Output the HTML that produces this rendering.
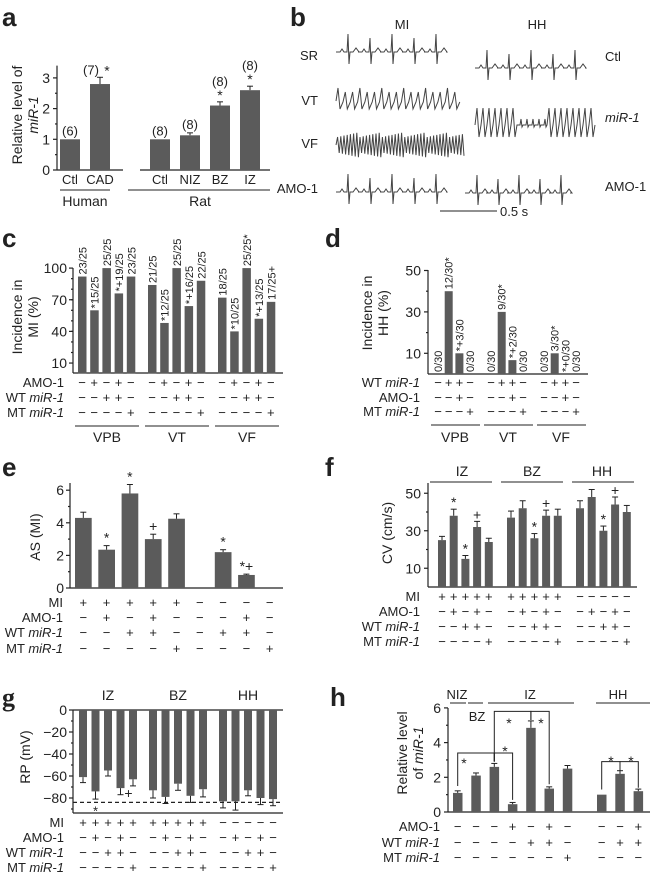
<!DOCTYPE html>
<html><head><meta charset="utf-8"><style>
body{margin:0;background:#fff;}
svg{display:block;font-family:"Liberation Sans",sans-serif;}
</style></head><body>
<svg id="fig" width="650" height="878" viewBox="0 0 650 878" xmlns="http://www.w3.org/2000/svg"></svg>
<script>
// ---------- data ----------
const aCats = ["Ctl","CAD","Ctl","NIZ","BZ","IZ"];
const aValues = [1,2.8,1,1.13,2.1,2.6];
const aErrors = [0,0.22,0,0.08,0.12,0.13];
const aN = ["(6)","(7)","(8)","(8)","(8)","(8)"];
const aStar = ["","*","","","*","*"];
const aTicks = [0,1,2,3];

const cGroups = ["VPB","VT","VF"];
const cValues = [[92,60,100,76,92],[84,48,100,64,88],[72,40,100,52,68]];
const cLabels = [["23/25","*15/25","25/25","*+19/25","23/25"],["21/25","*12/25","25/25","*+16/25","22/25"],["18/25","*10/25","25/25*","*+13/25","17/25+"]];
const cTicks = [10,40,70,100];

const dValues = [[0,40,10,0],[0,30,6.7,0],[0,10,0,0]];
const dLabels = [["0/30","12/30*","*+3/30","0/30"],["0/30","9/30*","*+2/30","0/30"],["0/30","3/30*","*+0/30","0/30"]];
const dTicks = [10,30,50];

const eValues = [4.3,2.35,5.8,3.0,4.25,0,2.2,0.8,0];
const eErrors = [0.35,0.25,0.55,0.3,0.3,0,0.15,0.05,0];
const eMarks = ["","*","*","+","","","*","*+",""];
const eTicks = [0,2,4,6];

const fGroups = ["IZ","BZ","HH"];
const fValues = [[25,38,15,32,24],[37,42,26,38,38],[42,48,30,44,40]];
const fErrors = [[2,3.5,1.8,3,2],[3.5,4,2.5,3,3.5],[4,4,2.5,4,3.5]];
const fMarks = [["","*","*","+",""],["","","*","+",""],["","","*","+",""]];
const fTicks = [10,30,50];

const gGroups = ["IZ","BZ","HH"];
const gValues = [[-61,-74,-55,-71,-63],[-73,-79,-67,-78,-72],[-83,-83,-73,-80,-81]];
const gErrors = [[5,7,5,6,6],[7,6,6,6,7],[6,8,5,6,6]];
const gTicks = [0,-20,-40,-60,-80];

const hValues = [1.1,2.1,2.6,0.45,4.85,1.35,2.5];
const hErrors = [0.12,0.15,0.2,0.1,0.4,0.1,0.18];
const hHHValues = [1.0,2.2,1.2];
const hHHErrors = [0,0.18,0.12];
const hTicks = [0,2,4,6];

// ---------- helpers ----------
const svg = document.getElementById('fig');
const NS = "http://www.w3.org/2000/svg";
const BAR = "#5b5b5b";
function mk(tag, attrs, name, parent){
  const el = document.createElementNS(NS, tag);
  for (const k in attrs) el.setAttribute(k, attrs[k]);
  
  
  (parent||svg).appendChild(el);
  return el;
}
function txt(x,y,s,name,o){
  o=o||{};
  const el = mk('text',{x:x,y:y,'font-size':o.size||12,'text-anchor':o.anchor||'start',fill:'#222','font-style':o.italic?'italic':'normal','font-weight':o.bold?'bold':'normal'},name);
  if(o.family) el.setAttribute('font-family',o.family);
  if(o.rot!==undefined) el.setAttribute('transform','rotate('+o.rot+' '+x+' '+y+')');
  el.textContent = s;
  return el;
}
function ln(x1,y1,x2,y2,name,w,dash){
  const el = mk('line',{x1:x1,y1:y1,x2:x2,y2:y2,stroke:'#222','stroke-width':w||1.2},name);
  if(dash) el.setAttribute('stroke-dasharray',dash);
  return el;
}
function bar(x,y0,y1,w,name){
  return mk('rect',{x:x,y:Math.min(y0,y1),width:w,height:Math.abs(y1-y0),fill:BAR},name);
}
function errbar(cx,yTop,yErr,name){
  ln(cx,yTop,cx,yErr,name,1);
  ln(cx-3,yErr,cx+3,yErr,name+'-cap',1);
}
function ylab(x,cy,lines,name){
  lines.forEach((l,i)=>{
    const t = txt(x+i*16,cy,'',name,{rot:-90,anchor:'middle',size:14});
    l.forEach(seg=>{const s=document.createElementNS(NS,'tspan');s.textContent=seg[0];if(seg[1])s.setAttribute('font-style','italic');t.appendChild(s);});
  });
}
function signRow(label, italicPart, yy, xs, signs, rightX, name){
  const t = txt(rightX,yy,'',name+'-label',{anchor:'end',size:13});
  const s1=document.createElementNS(NS,'tspan');s1.textContent=label;t.appendChild(s1);
  if(italicPart){const s2=document.createElementNS(NS,'tspan');s2.setAttribute('font-style','italic');s2.textContent=italicPart;t.appendChild(s2);}
  xs.forEach((x,i)=>{ if(signs[i]) txt(x,yy,signs[i]==='+'?'+':'\u2212',name+'-sign',{anchor:'middle',size:13}); });
}
function letter(x,y,s,name,serif){ txt(x,y,s,name,{bold:true,size:26,family:serif?'"Liberation Serif",serif':undefined}); }

// ---------- panel a ----------
letter(2,26,'a','panel-a-letter');
const aY = v => 170 - v*30.7;
const aX = [60,90,150,180,210,240];
ln(57,aY(3.4),57,170,'a-y-axis');
ln(57,170,123,170,'a-x-axis-human');
ln(140,170,270,170,'a-x-axis-rat');
aTicks.forEach(t=>{ln(53,aY(t),57,aY(t),'a-tick');txt(50,aY(t)+5,String(t),'a-tick-label',{anchor:'end',size:14});});
[0.5,1.5,2.5].forEach(t=>ln(55,aY(t),57,aY(t),'a-minor-tick'));
aValues.forEach((v,i)=>{
  bar(aX[i],aY(0),aY(v),20,'a-bar-'+aCats[i].toLowerCase());
  let top=aY(v+aErrors[i]);
  if(aErrors[i]>0) errbar(aX[i]+10,aY(v),top,'a-error');
  txt(aX[i]+10,184,aCats[i],'a-category-label',{anchor:'middle',size:13});
  if(i===1){ txt(aX[i]+17,top-2,'*','a-star',{anchor:'middle',size:14}); txt(aX[i]+1,top-3,aN[i],'a-n-label',{anchor:'middle',size:13}); return; }
  if(aStar[i]){ txt(aX[i]+10,top-2,'*','a-star',{anchor:'middle',size:14}); top-=12; }
  txt(aX[i]+10,top-4,aN[i],'a-n-label',{anchor:'middle',size:13});
});
ln(60,190,110,190,'a-human-line',1);ln(128,190,270,190,'a-rat-line',1);
txt(85,206,'Human','a-group-human',{anchor:'middle',size:14});
txt(200,206,'Rat','a-group-rat',{anchor:'middle',size:14});
ylab(22,115,[[['Relative level of']],[['miR-1',1]]],'a-y-axis-title');

// ---------- panel b ----------
letter(290,26,'b','panel-b-letter');
txt(402,29,'MI','b-mi-title',{anchor:'middle',size:13});
txt(537,29,'HH','b-hh-title',{anchor:'middle',size:13});
function trace(x0,x1,yc,type,name,period){
  let d='M'+x0+' '+yc; let x=x0;
  if(type==='sr'){
    let k=0;
    while(x<x1-period){
      const up = (k%2===0)?-18:-14;
      d+=' L'+(x+4)+' '+yc+' l2 -3 l2 3 l3 0 l1 '+up+' l1 '+(-up+12)+' l1 -12 l3 0 l3 -4 l3 4';
      x+=period; d+=' L'+x+' '+yc; k++;
    }
  } else if(type==='vt'){
    let k=0; while(x<x1-6){ const a=(k%3===0)?13:9; d+=' L'+(x+2)+' '+(yc-a)+' L'+(x+4)+' '+(yc+8)+' L'+(x+7)+' '+(yc+1); x+=7.3; k++; }
  } else if(type==='vf'){
    let k=0; while(x<x1-3){ const a=8+ (k%7)*0.7; d+=' L'+(x+1.6)+' '+(yc-a)+' L'+(x+3.2)+' '+(yc+a); x+=3.2; k++; }
  } else if(type==='mir'){
    let k=0; while(x<x1-6){ if(k>6&&k<12){d+=' l3 0 l1 -6 l1 8 l1 -2'; x+=6;} else {d+=' L'+(x+2)+' '+(yc-17)+' L'+(x+4)+' '+(yc+12)+' L'+(x+6)+' '+yc; x+=6;} k++; }
  }
  mk('path',{d:d,fill:'none',stroke:'#444','stroke-width':1},name);
}
txt(318,60,'SR','b-sr-label',{anchor:'end',size:13});
txt(318,105,'VT','b-vt-label',{anchor:'end',size:13});
txt(318,148,'VF','b-vf-label',{anchor:'end',size:13});
txt(318,193,'AMO-1','b-amo1-label',{anchor:'end',size:13});
trace(336,465,52,'sr','b-trace-mi-sr',22);
trace(336,463,101,'vt','b-trace-mi-vt');
trace(336,465,145,'vf','b-trace-mi-vf');
trace(336,458,192,'sr','b-trace-mi-amo1',22);
trace(475,600,68,'sr','b-trace-hh-ctl',22);
trace(475,600,125,'mir','b-trace-hh-mir1');
trace(465,588,193,'sr','b-trace-hh-amo1',21);
txt(605,61,'Ctl','b-ctl-label',{size:13});
txt(605,122,'miR-1','b-mir1-label',{size:13,italic:true});
txt(605,191,'AMO-1','b-amo1-right-label',{size:13});
ln(440,211,497,211,'b-scale-bar',1);
txt(500,216,'0.5 s','b-scale-label',{size:13});

// ---------- panel c ----------
letter(2,247,'c','panel-c-letter');
const cY = v => 373.6 - v*1.055;
ln(73,268,73,373,'c-y-axis');ln(73,373,283,373,'c-x-axis');
cTicks.forEach(t=>{ln(69,cY(t),73,cY(t),'c-tick');txt(67,cY(t)+5,String(t),'c-tick-label',{anchor:'end',size:14});});
for(let t=20;t<100;t+=10) ln(71,cY(t),73,cY(t),'c-minor-tick');
const cXs=[];
cValues.forEach((g,gi)=>g.forEach((v,i)=>{
  const x=78+gi*70+i*12.2; cXs.push(x+4);
  bar(x,cY(0),cY(v),8.5,'c-bar-'+cGroups[gi].toLowerCase()+'-'+i);
  txt(x+8.5,cY(v)-2,cLabels[gi][i],'c-count-label',{rot:-90,size:11});
}));
const cSigns=[['-','+','-','+','-'],['-','-','+','+','-'],['-','-','-','-','+']];
const rep3 = a=>a.concat(a,a);
signRow('AMO-1','',387,cXs,rep3(cSigns[0]),64,'c-row-amo1');
signRow('WT ','miR-1',402,cXs,rep3(cSigns[1]),64,'c-row-wt');
signRow('MT ','miR-1',417,cXs,rep3(cSigns[2]),64,'c-row-mt');
cGroups.forEach((g,gi)=>{ln(75+gi*70,426,139+gi*70,426,'c-group-line',1);txt(107+gi*70,442,g,'c-group-label',{anchor:'middle',size:14});});
ylab(22,317,[[['Incidence in']],[['MI (%)']]],'c-y-axis-title');

// ---------- panel d ----------
letter(325,247,'d','panel-d-letter');
const dY = v => 374 - v*2.07;
ln(428,270,428,374,'d-y-axis');ln(428,374,588,374,'d-x-axis');
dTicks.forEach(t=>{ln(424,dY(t),428,dY(t),'d-tick');txt(421,dY(t)+5,String(t),'d-tick-label',{anchor:'end',size:14});});
[20,40].forEach(t=>ln(426,dY(t),428,dY(t),'d-minor-tick'));
const dXs=[];
dValues.forEach((g,gi)=>g.forEach((v,i)=>{
  const x=434+gi*53+i*10.7; dXs.push(x+4);
  if(v>0) bar(x,dY(0),dY(v),8,'d-bar-'+cGroups[gi].toLowerCase()+'-'+i);
  txt(x+8,dY(v)-2,dLabels[gi][i],'d-count-label',{rot:-90,size:11});
}));
const dSigns=[['-','+','+','-'],['-','-','+','-'],['-','-','-','+']];
signRow('WT ','miR-1',387,dXs,rep3(dSigns[0]),420,'d-row-wt');
signRow('AMO-1','',402,dXs,rep3(dSigns[1]),420,'d-row-amo1');
signRow('MT ','miR-1',416,dXs,rep3(dSigns[2]),420,'d-row-mt');
cGroups.forEach((g,gi)=>{ln(431+gi*53,425,480+gi*53,425,'d-group-line',1);txt(455+gi*53,442,g,'d-group-label',{anchor:'middle',size:14});});
ylab(372,313,[[['Incidence in']],[['HH (%)']]],'d-y-axis-title');

// ---------- panel e ----------
letter(2,476,'e','panel-e-letter');
const eY = v => 588 - v*16.3;
ln(70,483,70,588,'e-y-axis');ln(70,588,283,588,'e-x-axis');
eTicks.forEach(t=>{ln(66,eY(t),70,eY(t),'e-tick');txt(64,eY(t)+5,String(t),'e-tick-label',{anchor:'end',size:14});});
[1,3,5].forEach(t=>ln(68,eY(t),70,eY(t),'e-minor-tick'));
const eXs=[];
eValues.forEach((v,i)=>{
  const x=75+i*23.3; eXs.push(x+8.3);
  if(v>0){ bar(x,eY(0),eY(v),16.7,'e-bar-'+i); errbar(x+8.3,eY(v),eY(v+eErrors[i]),'e-error'); }
  if(eMarks[i]) txt(x+8.3,eY(v+eErrors[i])-3,eMarks[i],'e-significance',{anchor:'middle',size:14});
});
signRow('MI','',607,eXs,['+','+','+','+','+','-','-','-','-'],63,'e-row-mi');
signRow('AMO-1','',622,eXs,['-','+','-','+','-','-','-','+','-'],63,'e-row-amo1');
signRow('WT ','miR-1',637,eXs,['-','-','+','+','-','-','+','+','-'],63,'e-row-wt');
signRow('MT ','miR-1',653,eXs,['-','-','-','-','+','-','-','-','+'],63,'e-row-mt');
ylab(40,537,[[['AS (MI)']]],'e-y-axis-title');

// ---------- panel f ----------
letter(325,476,'f','panel-f-letter');
const fY = v => 587 - v*1.875;
ln(428,483,428,587,'f-y-axis');ln(428,587,637,587,'f-x-axis');
fTicks.forEach(t=>{ln(424,fY(t),428,fY(t),'f-tick');txt(421,fY(t)+5,String(t),'f-tick-label',{anchor:'end',size:14});});
[20,40].forEach(t=>ln(426,fY(t),428,fY(t),'f-minor-tick'));
const fXs=[];
fValues.forEach((g,gi)=>g.forEach((v,i)=>{
  const x=438+gi*69+i*11.7; fXs.push(x+4);
  bar(x,fY(0),fY(v),8,'f-bar-'+fGroups[gi].toLowerCase()+'-'+i);
  errbar(x+4,fY(v),fY(v+fErrors[gi][i]),'f-error');
  if(fMarks[gi][i]) txt(x+4,fY(v+fErrors[gi][i])-2,fMarks[gi][i],'f-significance',{anchor:'middle',size:14});
}));
fGroups.forEach((g,gi)=>{ln(430+gi*71,482,492+gi*71,482,'f-group-line',1);txt(462+gi*70,476,g,'f-group-label',{anchor:'middle',size:14});});
const f5=[['+','+','+','+','+'],['-','+','-','+','-'],['-','-','+','+','-'],['-','-','-','-','+']];
signRow('MI','',601,fXs,f5[0].concat(f5[0],['-','-','-','-','-']),420,'f-row-mi');
signRow('AMO-1','',616,fXs,rep3(f5[1]),420,'f-row-amo1');
signRow('WT ','miR-1',631,fXs,rep3(f5[2]),420,'f-row-wt');
signRow('MT ','miR-1',646,fXs,rep3(f5[3]),420,'f-row-mt');
ylab(392,533,[[['CV (cm/s)']]],'f-y-axis-title');

// ---------- panel g ----------
letter(2,706,'g','panel-g-letter',true);
const gY = v => 710 - v*1.1;
ln(73,710,73,813,'g-y-axis');ln(73,710,283,710,'g-zero-line');ln(73,813,283,813,'g-x-axis');
gTicks.forEach(t=>{ln(69,gY(t),73,gY(t),'g-tick');txt(67,gY(t)+5,t===0?'0':'\u2212'+(-t),'g-tick-label',{anchor:'end',size:14});});
[-10,-30,-50,-70,-90].forEach(t=>ln(71,gY(t),73,gY(t),'g-minor-tick'));
ln(73,gY(-84),283,gY(-84),'g-dashed-threshold',1.2,'4,3');
const gXs=[];
gValues.forEach((g,gi)=>g.forEach((v,i)=>{
  const x=79+gi*70+i*12.5; gXs.push(x+4);
  bar(x,gY(0),gY(v),8,'g-bar-'+gGroups[gi].toLowerCase()+'-'+i);
  errbar(x+4,gY(v),gY(v-gErrors[gi][i]),'g-error');
}));
txt(gXs[1],gY(-96),'*','g-star',{anchor:'middle',size:13});
txt(gXs[3]+8,gY(-80),'+','g-plus',{anchor:'middle',size:14});
gGroups.forEach((g,gi)=>txt(108+gi*70,700,g,'g-group-label',{anchor:'middle',size:14}));
signRow('MI','',827,gXs,f5[0].concat(f5[0],['-','-','-','-','-']),64,'g-row-mi');
signRow('AMO-1','',842,gXs,rep3(f5[1]),64,'g-row-amo1');
signRow('WT ','miR-1',857,gXs,rep3(f5[2]),64,'g-row-wt');
signRow('MT ','miR-1',872,gXs,rep3(f5[3]),64,'g-row-mt');
ylab(30,757,[[['RP (mV)']]],'g-y-axis-title');

// ---------- panel h ----------
letter(330,706,'h','panel-h-letter');
const hY = v => 812 - v*17.35;
ln(448,708,448,812,'h-y-axis');ln(448,812,650,812,'h-x-axis');
hTicks.forEach(t=>{ln(444,hY(t),448,hY(t),'h-tick');txt(441,hY(t)+5,String(t),'h-tick-label',{anchor:'end',size:14});});
[1,3,5].forEach(t=>ln(446,hY(t),448,hY(t),'h-minor-tick'));
const hXs=[];
hValues.forEach((v,i)=>{
  const x=453+i*18.3; hXs.push(x+4.7);
  bar(x,hY(0),hY(v),9.5,'h-bar-'+i);
  errbar(x+4.7,hY(v),hY(v+hErrors[i]),'h-error');
});
hHHValues.forEach((v,i)=>{
  const x=597+i*18.3; hXs.push(x+4.7);
  bar(x,hY(0),hY(v),9.5,'h-bar-hh-'+i);
  if(hHHErrors[i]>0) errbar(x+4.7,hY(v),hY(v+hHHErrors[i]),'h-error');
});
function bracket(xa,xb,ya,yb,yt,name){
  mk('path',{d:'M'+xa+' '+ya+' V'+yt+' H'+xb+' V'+yb,fill:'none',stroke:'#222','stroke-width':1},name);
}
bracket(hXs[0],hXs[2],hY(1.5),hY(2.9),hY(3.4),'h-bracket-1');
bracket(hXs[2],hXs[3],hY(2.9),hY(0.7),hY(3.4),'h-bracket-2');
bracket(hXs[2],hXs[4],hY(2.9),hY(5.3),hY(5.8),'h-bracket-3');
bracket(hXs[4],hXs[5],hY(5.3),hY(1.6),hY(5.8),'h-bracket-4');
bracket(hXs[7],hXs[8],hY(1.3),hY(2.4),hY(2.9),'h-bracket-5');
bracket(hXs[8],hXs[9],hY(2.4),hY(1.4),hY(2.9),'h-bracket-6');
[[464,3.0],[505,3.7],[509,5.3],[541,5.3],[611,3.1],[631,3.1]].forEach(p=>txt(p[0],hY(p[1])+8,'*','h-star',{anchor:'middle',size:14}));
txt(457,699,'NIZ','h-niz-label',{anchor:'middle',size:13});
txt(477,721,'BZ','h-bz-label',{anchor:'middle',size:13});
txt(530,699,'IZ','h-iz-label',{anchor:'middle',size:13});
txt(618,699,'HH','h-hh-label',{anchor:'middle',size:13});
ln(450,703,466,703,'h-niz-line',1);ln(468,703,483,703,'h-bz-line',1);ln(488,703,574,703,'h-iz-line',1);ln(596,703,650,703,'h-hh-line',1);
signRow('AMO-1','',831,hXs,['-','-','-','+','-','+','-','-','-','+'],440,'h-row-amo1');
signRow('WT ','miR-1',847,hXs,['-','-','-','-','+','+','-','-','+','+'],440,'h-row-wt');
signRow('MT ','miR-1',862,hXs,['-','-','-','-','-','-','+','-','-','-'],440,'h-row-mt');
ylab(407,753,[[['Relative level']],[['of '],['miR-1',1]]],'h-y-axis-title');
</script>
</body></html>
